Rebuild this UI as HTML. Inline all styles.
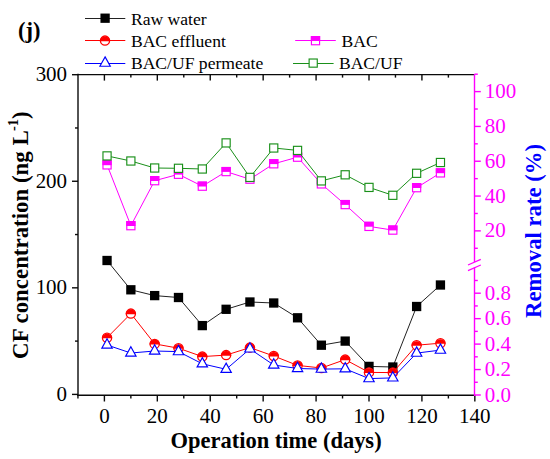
<!DOCTYPE html>
<html><head><meta charset="utf-8"><style>
html,body{margin:0;padding:0;background:#fff;}
body{width:550px;height:459px;overflow:hidden;font-family:"Liberation Serif",serif;}
svg{display:block;}
</style></head><body>
<svg width="550" height="459" viewBox="0 0 550 459">
<rect width="550" height="459" fill="#fff"/>
<polyline points="107.05,260.50 130.86,289.80 154.67,295.60 178.49,297.50 202.30,325.60 226.12,309.30 249.93,302.00 273.74,303.00 297.56,317.80 321.37,345.20 345.19,341.10 369.00,366.40 392.81,367.00 416.63,306.50 440.44,285.00" fill="none" stroke="#222" stroke-width="1.0" stroke-linejoin="round"/>
<rect x="102.40" y="255.85" width="9.3" height="9.3" fill="#000"/>
<rect x="126.21" y="285.15" width="9.3" height="9.3" fill="#000"/>
<rect x="150.02" y="290.95" width="9.3" height="9.3" fill="#000"/>
<rect x="173.84" y="292.85" width="9.3" height="9.3" fill="#000"/>
<rect x="197.65" y="320.95" width="9.3" height="9.3" fill="#000"/>
<rect x="221.47" y="304.65" width="9.3" height="9.3" fill="#000"/>
<rect x="245.28" y="297.35" width="9.3" height="9.3" fill="#000"/>
<rect x="269.09" y="298.35" width="9.3" height="9.3" fill="#000"/>
<rect x="292.91" y="313.15" width="9.3" height="9.3" fill="#000"/>
<rect x="316.72" y="340.55" width="9.3" height="9.3" fill="#000"/>
<rect x="340.54" y="336.45" width="9.3" height="9.3" fill="#000"/>
<rect x="364.35" y="361.75" width="9.3" height="9.3" fill="#000"/>
<rect x="388.16" y="362.35" width="9.3" height="9.3" fill="#000"/>
<rect x="411.98" y="301.85" width="9.3" height="9.3" fill="#000"/>
<rect x="435.79" y="280.35" width="9.3" height="9.3" fill="#000"/>
<polyline points="107.05,337.70 130.86,313.60 154.67,343.90 178.49,348.20 202.30,356.60 226.12,355.10 249.93,347.60 273.74,356.00 297.56,365.40 321.37,368.00 345.19,359.60 369.00,372.40 392.81,372.60 416.63,345.20 440.44,343.20" fill="none" stroke="#ff0000" stroke-width="1.0" stroke-linejoin="round"/>
<circle cx="107.05" cy="337.70" r="4.60" fill="#fff" stroke="#ff0000" stroke-width="1.3"/><path d="M101.83,338.30 A5.25,5.25 0 0 1 112.26,338.30 Z" fill="#ff0000"/>
<circle cx="130.86" cy="313.60" r="4.60" fill="#fff" stroke="#ff0000" stroke-width="1.3"/><path d="M125.64,314.20 A5.25,5.25 0 0 1 136.08,314.20 Z" fill="#ff0000"/>
<circle cx="154.67" cy="343.90" r="4.60" fill="#fff" stroke="#ff0000" stroke-width="1.3"/><path d="M149.46,344.50 A5.25,5.25 0 0 1 159.89,344.50 Z" fill="#ff0000"/>
<circle cx="178.49" cy="348.20" r="4.60" fill="#fff" stroke="#ff0000" stroke-width="1.3"/><path d="M173.27,348.80 A5.25,5.25 0 0 1 183.70,348.80 Z" fill="#ff0000"/>
<circle cx="202.30" cy="356.60" r="4.60" fill="#fff" stroke="#ff0000" stroke-width="1.3"/><path d="M197.09,357.20 A5.25,5.25 0 0 1 207.52,357.20 Z" fill="#ff0000"/>
<circle cx="226.12" cy="355.10" r="4.60" fill="#fff" stroke="#ff0000" stroke-width="1.3"/><path d="M220.90,355.70 A5.25,5.25 0 0 1 231.33,355.70 Z" fill="#ff0000"/>
<circle cx="249.93" cy="347.60" r="4.60" fill="#fff" stroke="#ff0000" stroke-width="1.3"/><path d="M244.71,348.20 A5.25,5.25 0 0 1 255.15,348.20 Z" fill="#ff0000"/>
<circle cx="273.74" cy="356.00" r="4.60" fill="#fff" stroke="#ff0000" stroke-width="1.3"/><path d="M268.53,356.60 A5.25,5.25 0 0 1 278.96,356.60 Z" fill="#ff0000"/>
<circle cx="297.56" cy="365.40" r="4.60" fill="#fff" stroke="#ff0000" stroke-width="1.3"/><path d="M292.34,366.00 A5.25,5.25 0 0 1 302.77,366.00 Z" fill="#ff0000"/>
<circle cx="321.37" cy="368.00" r="4.60" fill="#fff" stroke="#ff0000" stroke-width="1.3"/><path d="M316.16,368.60 A5.25,5.25 0 0 1 326.59,368.60 Z" fill="#ff0000"/>
<circle cx="345.19" cy="359.60" r="4.60" fill="#fff" stroke="#ff0000" stroke-width="1.3"/><path d="M339.97,360.20 A5.25,5.25 0 0 1 350.40,360.20 Z" fill="#ff0000"/>
<circle cx="369.00" cy="372.40" r="4.60" fill="#fff" stroke="#ff0000" stroke-width="1.3"/><path d="M363.78,373.00 A5.25,5.25 0 0 1 374.22,373.00 Z" fill="#ff0000"/>
<circle cx="392.81" cy="372.60" r="4.60" fill="#fff" stroke="#ff0000" stroke-width="1.3"/><path d="M387.60,373.20 A5.25,5.25 0 0 1 398.03,373.20 Z" fill="#ff0000"/>
<circle cx="416.63" cy="345.20" r="4.60" fill="#fff" stroke="#ff0000" stroke-width="1.3"/><path d="M411.41,345.80 A5.25,5.25 0 0 1 421.84,345.80 Z" fill="#ff0000"/>
<circle cx="440.44" cy="343.20" r="4.60" fill="#fff" stroke="#ff0000" stroke-width="1.3"/><path d="M435.23,343.80 A5.25,5.25 0 0 1 445.66,343.80 Z" fill="#ff0000"/>
<polyline points="107.05,345.00 130.86,353.00 154.67,351.00 178.49,351.60 202.30,363.80 226.12,369.30 249.93,348.90 273.74,365.00 297.56,368.50 321.37,369.10 345.19,368.80 369.00,378.60 392.81,377.90 416.63,353.10 440.44,350.10" fill="none" stroke="#0000ff" stroke-width="1.0" stroke-linejoin="round"/>
<path d="M107.05,338.80 L112.25,348.10 L101.85,348.10 Z" fill="#fff" stroke="#0000ff" stroke-width="1.15" stroke-linejoin="miter"/>
<path d="M130.86,346.80 L136.06,356.10 L125.66,356.10 Z" fill="#fff" stroke="#0000ff" stroke-width="1.15" stroke-linejoin="miter"/>
<path d="M154.67,344.80 L159.87,354.10 L149.47,354.10 Z" fill="#fff" stroke="#0000ff" stroke-width="1.15" stroke-linejoin="miter"/>
<path d="M178.49,345.40 L183.69,354.70 L173.29,354.70 Z" fill="#fff" stroke="#0000ff" stroke-width="1.15" stroke-linejoin="miter"/>
<path d="M202.30,357.60 L207.50,366.90 L197.10,366.90 Z" fill="#fff" stroke="#0000ff" stroke-width="1.15" stroke-linejoin="miter"/>
<path d="M226.12,363.10 L231.32,372.40 L220.92,372.40 Z" fill="#fff" stroke="#0000ff" stroke-width="1.15" stroke-linejoin="miter"/>
<path d="M249.93,342.70 L255.13,352.00 L244.73,352.00 Z" fill="#fff" stroke="#0000ff" stroke-width="1.15" stroke-linejoin="miter"/>
<path d="M273.74,358.80 L278.94,368.10 L268.54,368.10 Z" fill="#fff" stroke="#0000ff" stroke-width="1.15" stroke-linejoin="miter"/>
<path d="M297.56,362.30 L302.76,371.60 L292.36,371.60 Z" fill="#fff" stroke="#0000ff" stroke-width="1.15" stroke-linejoin="miter"/>
<path d="M321.37,362.90 L326.57,372.20 L316.17,372.20 Z" fill="#fff" stroke="#0000ff" stroke-width="1.15" stroke-linejoin="miter"/>
<path d="M345.19,362.60 L350.39,371.90 L339.99,371.90 Z" fill="#fff" stroke="#0000ff" stroke-width="1.15" stroke-linejoin="miter"/>
<path d="M369.00,372.40 L374.20,381.70 L363.80,381.70 Z" fill="#fff" stroke="#0000ff" stroke-width="1.15" stroke-linejoin="miter"/>
<path d="M392.81,371.70 L398.01,381.00 L387.61,381.00 Z" fill="#fff" stroke="#0000ff" stroke-width="1.15" stroke-linejoin="miter"/>
<path d="M416.63,346.90 L421.83,356.20 L411.43,356.20 Z" fill="#fff" stroke="#0000ff" stroke-width="1.15" stroke-linejoin="miter"/>
<path d="M440.44,343.90 L445.64,353.20 L435.24,353.20 Z" fill="#fff" stroke="#0000ff" stroke-width="1.15" stroke-linejoin="miter"/>
<polyline points="107.05,164.90 130.86,225.70 154.67,180.70 178.49,174.30 202.30,186.20 226.12,171.60 249.93,179.20 273.74,163.80 297.56,157.20 321.37,183.90 345.19,204.60 369.00,226.40 392.81,230.10 416.63,187.70 440.44,172.90" fill="none" stroke="#ff00ff" stroke-width="1.0" stroke-linejoin="round"/>
<rect x="102.97" y="160.83" width="8.15" height="8.15" fill="#fff" stroke="#ff00ff" stroke-width="1.15"/><rect x="102.40" y="160.25" width="9.3" height="4.95" fill="#ff00ff"/>
<rect x="126.79" y="221.62" width="8.15" height="8.15" fill="#fff" stroke="#ff00ff" stroke-width="1.15"/><rect x="126.21" y="221.05" width="9.3" height="4.95" fill="#ff00ff"/>
<rect x="150.60" y="176.62" width="8.15" height="8.15" fill="#fff" stroke="#ff00ff" stroke-width="1.15"/><rect x="150.02" y="176.05" width="9.3" height="4.95" fill="#ff00ff"/>
<rect x="174.41" y="170.23" width="8.15" height="8.15" fill="#fff" stroke="#ff00ff" stroke-width="1.15"/><rect x="173.84" y="169.65" width="9.3" height="4.95" fill="#ff00ff"/>
<rect x="198.23" y="182.12" width="8.15" height="8.15" fill="#fff" stroke="#ff00ff" stroke-width="1.15"/><rect x="197.65" y="181.55" width="9.3" height="4.95" fill="#ff00ff"/>
<rect x="222.04" y="167.53" width="8.15" height="8.15" fill="#fff" stroke="#ff00ff" stroke-width="1.15"/><rect x="221.47" y="166.95" width="9.3" height="4.95" fill="#ff00ff"/>
<rect x="245.86" y="175.12" width="8.15" height="8.15" fill="#fff" stroke="#ff00ff" stroke-width="1.15"/><rect x="245.28" y="174.55" width="9.3" height="4.95" fill="#ff00ff"/>
<rect x="269.67" y="159.73" width="8.15" height="8.15" fill="#fff" stroke="#ff00ff" stroke-width="1.15"/><rect x="269.09" y="159.15" width="9.3" height="4.95" fill="#ff00ff"/>
<rect x="293.48" y="153.12" width="8.15" height="8.15" fill="#fff" stroke="#ff00ff" stroke-width="1.15"/><rect x="292.91" y="152.55" width="9.3" height="4.95" fill="#ff00ff"/>
<rect x="317.30" y="179.83" width="8.15" height="8.15" fill="#fff" stroke="#ff00ff" stroke-width="1.15"/><rect x="316.72" y="179.25" width="9.3" height="4.95" fill="#ff00ff"/>
<rect x="341.11" y="200.53" width="8.15" height="8.15" fill="#fff" stroke="#ff00ff" stroke-width="1.15"/><rect x="340.54" y="199.95" width="9.3" height="4.95" fill="#ff00ff"/>
<rect x="364.93" y="222.33" width="8.15" height="8.15" fill="#fff" stroke="#ff00ff" stroke-width="1.15"/><rect x="364.35" y="221.75" width="9.3" height="4.95" fill="#ff00ff"/>
<rect x="388.74" y="226.03" width="8.15" height="8.15" fill="#fff" stroke="#ff00ff" stroke-width="1.15"/><rect x="388.16" y="225.45" width="9.3" height="4.95" fill="#ff00ff"/>
<rect x="412.55" y="183.62" width="8.15" height="8.15" fill="#fff" stroke="#ff00ff" stroke-width="1.15"/><rect x="411.98" y="183.05" width="9.3" height="4.95" fill="#ff00ff"/>
<rect x="436.37" y="168.83" width="8.15" height="8.15" fill="#fff" stroke="#ff00ff" stroke-width="1.15"/><rect x="435.79" y="168.25" width="9.3" height="4.95" fill="#ff00ff"/>
<polyline points="107.05,155.90 130.86,161.00 154.67,168.00 178.49,168.30 202.30,169.00 226.12,142.90 249.93,177.40 273.74,148.00 297.56,150.40 321.37,180.90 345.19,174.80 369.00,187.40 392.81,195.30 416.63,173.30 440.44,162.50" fill="none" stroke="#1a901a" stroke-width="1.0" stroke-linejoin="round"/>
<rect x="102.97" y="151.83" width="8.15" height="8.15" fill="#fff" stroke="#1a901a" stroke-width="1.15"/>
<rect x="126.79" y="156.93" width="8.15" height="8.15" fill="#fff" stroke="#1a901a" stroke-width="1.15"/>
<rect x="150.60" y="163.93" width="8.15" height="8.15" fill="#fff" stroke="#1a901a" stroke-width="1.15"/>
<rect x="174.41" y="164.23" width="8.15" height="8.15" fill="#fff" stroke="#1a901a" stroke-width="1.15"/>
<rect x="198.23" y="164.93" width="8.15" height="8.15" fill="#fff" stroke="#1a901a" stroke-width="1.15"/>
<rect x="222.04" y="138.83" width="8.15" height="8.15" fill="#fff" stroke="#1a901a" stroke-width="1.15"/>
<rect x="245.86" y="173.33" width="8.15" height="8.15" fill="#fff" stroke="#1a901a" stroke-width="1.15"/>
<rect x="269.67" y="143.93" width="8.15" height="8.15" fill="#fff" stroke="#1a901a" stroke-width="1.15"/>
<rect x="293.48" y="146.33" width="8.15" height="8.15" fill="#fff" stroke="#1a901a" stroke-width="1.15"/>
<rect x="317.30" y="176.83" width="8.15" height="8.15" fill="#fff" stroke="#1a901a" stroke-width="1.15"/>
<rect x="341.11" y="170.73" width="8.15" height="8.15" fill="#fff" stroke="#1a901a" stroke-width="1.15"/>
<rect x="364.93" y="183.33" width="8.15" height="8.15" fill="#fff" stroke="#1a901a" stroke-width="1.15"/>
<rect x="388.74" y="191.23" width="8.15" height="8.15" fill="#fff" stroke="#1a901a" stroke-width="1.15"/>
<rect x="412.55" y="169.23" width="8.15" height="8.15" fill="#fff" stroke="#1a901a" stroke-width="1.15"/>
<rect x="436.37" y="158.43" width="8.15" height="8.15" fill="#fff" stroke="#1a901a" stroke-width="1.15"/>
<g stroke="#0a0a0a" stroke-width="1.4" fill="none">
<line x1="77.2" y1="395.2" x2="474.5" y2="395.2"/>
<line x1="77.2" y1="74.6" x2="474.5" y2="74.6"/>
<line x1="78.0" y1="73.8" x2="78.0" y2="396.0"/>
<line x1="77.94" y1="395.2" x2="77.94" y2="398.5"/>
<line x1="104.40" y1="395.2" x2="104.40" y2="401.5"/>
<line x1="130.86" y1="395.2" x2="130.86" y2="398.5"/>
<line x1="157.32" y1="395.2" x2="157.32" y2="401.5"/>
<line x1="183.78" y1="395.2" x2="183.78" y2="398.5"/>
<line x1="210.24" y1="395.2" x2="210.24" y2="401.5"/>
<line x1="236.70" y1="395.2" x2="236.70" y2="398.5"/>
<line x1="263.16" y1="395.2" x2="263.16" y2="401.5"/>
<line x1="289.62" y1="395.2" x2="289.62" y2="398.5"/>
<line x1="316.08" y1="395.2" x2="316.08" y2="401.5"/>
<line x1="342.54" y1="395.2" x2="342.54" y2="398.5"/>
<line x1="369.00" y1="395.2" x2="369.00" y2="401.5"/>
<line x1="395.46" y1="395.2" x2="395.46" y2="398.5"/>
<line x1="421.92" y1="395.2" x2="421.92" y2="401.5"/>
<line x1="448.38" y1="395.2" x2="448.38" y2="398.5"/>
<line x1="474.84" y1="395.2" x2="474.84" y2="401.5"/>
<line x1="104.40" y1="74.6" x2="104.40" y2="80.6"/>
<line x1="130.86" y1="74.6" x2="130.86" y2="77.6"/>
<line x1="157.32" y1="74.6" x2="157.32" y2="80.6"/>
<line x1="183.78" y1="74.6" x2="183.78" y2="77.6"/>
<line x1="210.24" y1="74.6" x2="210.24" y2="80.6"/>
<line x1="236.70" y1="74.6" x2="236.70" y2="77.6"/>
<line x1="263.16" y1="74.6" x2="263.16" y2="80.6"/>
<line x1="289.62" y1="74.6" x2="289.62" y2="77.6"/>
<line x1="316.08" y1="74.6" x2="316.08" y2="80.6"/>
<line x1="342.54" y1="74.6" x2="342.54" y2="77.6"/>
<line x1="369.00" y1="74.6" x2="369.00" y2="80.6"/>
<line x1="395.46" y1="74.6" x2="395.46" y2="77.6"/>
<line x1="421.92" y1="74.6" x2="421.92" y2="80.6"/>
<line x1="448.38" y1="74.6" x2="448.38" y2="77.6"/>
<line x1="78.0" y1="394.40" x2="72.0" y2="394.40"/>
<line x1="78.0" y1="341.11" x2="75.0" y2="341.11"/>
<line x1="78.0" y1="287.83" x2="72.0" y2="287.83"/>
<line x1="78.0" y1="234.54" x2="75.0" y2="234.54"/>
<line x1="78.0" y1="181.26" x2="72.0" y2="181.26"/>
<line x1="78.0" y1="127.97" x2="75.0" y2="127.97"/>
<line x1="78.0" y1="74.69" x2="72.0" y2="74.69"/>
</g>
<g stroke="#ff00ff" stroke-width="1.4" fill="none">
<line x1="474.5" y1="74.3" x2="474.5" y2="262.0"/>
<line x1="474.5" y1="267.6" x2="474.5" y2="396.0"/>
<line x1="474.5" y1="248.29" x2="477.8" y2="248.29"/>
<line x1="474.5" y1="230.88" x2="480.8" y2="230.88"/>
<line x1="474.5" y1="213.47" x2="477.8" y2="213.47"/>
<line x1="474.5" y1="196.06" x2="480.8" y2="196.06"/>
<line x1="474.5" y1="178.65" x2="477.8" y2="178.65"/>
<line x1="474.5" y1="161.24" x2="480.8" y2="161.24"/>
<line x1="474.5" y1="143.83" x2="477.8" y2="143.83"/>
<line x1="474.5" y1="126.42" x2="480.8" y2="126.42"/>
<line x1="474.5" y1="109.01" x2="477.8" y2="109.01"/>
<line x1="474.5" y1="91.60" x2="480.8" y2="91.60"/>
<line x1="474.5" y1="74.19" x2="477.8" y2="74.19"/>
<line x1="474.5" y1="395.00" x2="480.8" y2="395.00"/>
<line x1="474.5" y1="382.27" x2="477.8" y2="382.27"/>
<line x1="474.5" y1="369.55" x2="480.8" y2="369.55"/>
<line x1="474.5" y1="356.82" x2="477.8" y2="356.82"/>
<line x1="474.5" y1="344.10" x2="480.8" y2="344.10"/>
<line x1="474.5" y1="331.38" x2="477.8" y2="331.38"/>
<line x1="474.5" y1="318.65" x2="480.8" y2="318.65"/>
<line x1="474.5" y1="305.93" x2="477.8" y2="305.93"/>
<line x1="474.5" y1="293.20" x2="480.8" y2="293.20"/>
<line x1="474.5" y1="280.48" x2="477.8" y2="280.48"/>
<line x1="468" y1="265.0" x2="480.8" y2="259.4" stroke-width="1.3"/>
<line x1="468" y1="270.6" x2="480.8" y2="265.0" stroke-width="1.3"/>
</g>
<g font-family="Liberation Serif, serif" font-size="21" fill="#000" text-anchor="end">
<text transform="translate(67.10,401.00) scale(1,1.04)" >0</text>
<text transform="translate(67.10,294.43) scale(1,1.04)" >100</text>
<text transform="translate(67.10,187.86) scale(1,1.04)" >200</text>
<text transform="translate(67.10,81.29) scale(1,1.04)" >300</text>
</g>
<g font-family="Liberation Serif, serif" font-size="21" fill="#000" text-anchor="middle">
<text transform="translate(104.40,422.70) scale(1,1.04)" >0</text>
<text transform="translate(157.32,422.70) scale(1,1.04)" >20</text>
<text transform="translate(210.24,422.70) scale(1,1.04)" >40</text>
<text transform="translate(263.16,422.70) scale(1,1.04)" >60</text>
<text transform="translate(316.08,422.70) scale(1,1.04)" >80</text>
<text transform="translate(369.00,422.70) scale(1,1.04)" >100</text>
<text transform="translate(421.92,422.70) scale(1,1.04)" >120</text>
<text transform="translate(474.84,422.70) scale(1,1.04)" >140</text>
</g>
<g font-family="Liberation Serif, serif" font-size="21" fill="#ff00ff" text-anchor="start">
<text transform="translate(484.80,237.38) scale(1,1.04)" >20</text>
<text transform="translate(484.80,202.56) scale(1,1.04)" >40</text>
<text transform="translate(484.80,167.74) scale(1,1.04)" >60</text>
<text transform="translate(484.80,132.92) scale(1,1.04)" >80</text>
<text transform="translate(484.80,98.10) scale(1,1.04)" >100</text>
<text transform="translate(484.80,401.50) scale(1,1.04)" >0.0</text>
<text transform="translate(484.80,376.05) scale(1,1.04)" >0.2</text>
<text transform="translate(484.80,350.60) scale(1,1.04)" >0.4</text>
<text transform="translate(484.80,325.15) scale(1,1.04)" >0.6</text>
<text transform="translate(484.80,299.70) scale(1,1.04)" >0.8</text>
</g>
<text font-family="Liberation Serif, serif" font-size="22.5" font-weight="bold" transform="translate(170.5,447.9) scale(1,1.045)">Operation time (days)</text>
<text font-family="Liberation Serif, serif" font-size="22.7" font-weight="bold" fill="#0000ff" transform="translate(541.0,317.9) rotate(-90) scale(1,1.05)">Removal rate (%)</text>
<text font-family="Liberation Serif, serif" font-size="22.9" font-weight="bold" transform="translate(28.3,358.9) rotate(-90) scale(1,1.05)">CF concentration (ng L<tspan font-size="14.5" dx="-0.8" dy="-10.2">-1</tspan><tspan dy="10.2">)</tspan></text>
<text font-family="Liberation Serif, serif" font-size="22.5" font-weight="bold" x="18.0" y="37.8">(j)</text>
<line x1="85" y1="18.5" x2="125.3" y2="18.5" stroke="#222" stroke-width="1.0"/>
<rect x="100.45" y="13.55" width="9.3" height="9.3" fill="#000"/>
<line x1="85" y1="40.5" x2="125.3" y2="40.5" stroke="#ff0000" stroke-width="1.0"/>
<circle cx="105.00" cy="40.60" r="4.60" fill="#fff" stroke="#ff0000" stroke-width="1.3"/><path d="M99.78,41.20 A5.25,5.25 0 0 1 110.22,41.20 Z" fill="#ff0000"/>
<line x1="85" y1="63.5" x2="125.3" y2="63.5" stroke="#0000ff" stroke-width="1.0"/>
<path d="M105.10,56.90 L110.30,66.20 L99.90,66.20 Z" fill="#fff" stroke="#0000ff" stroke-width="1.15" stroke-linejoin="miter"/>
<line x1="295.2" y1="40.5" x2="335.8" y2="40.5" stroke="#ff00ff" stroke-width="1.0"/>
<rect x="311.43" y="36.62" width="8.15" height="8.15" fill="#fff" stroke="#ff00ff" stroke-width="1.15"/><rect x="310.85" y="36.05" width="9.3" height="4.95" fill="#ff00ff"/>
<line x1="293" y1="63.5" x2="333.6" y2="63.5" stroke="#1a901a" stroke-width="1.0"/>
<rect x="309.12" y="59.02" width="8.15" height="8.15" fill="#fff" stroke="#1a901a" stroke-width="1.15"/>
<g font-family="Liberation Serif, serif" font-size="17.6" fill="#000">
<text x="130.9" y="24.5">Raw water</text>
<text x="130.9" y="46.9">BAC effluent</text>
<text x="130.9" y="69.0">BAC/UF permeate</text>
<text x="341.6" y="46.9">BAC</text>
<text x="338.9" y="69.0">BAC/UF</text>
</g>
</svg>
</body></html>
